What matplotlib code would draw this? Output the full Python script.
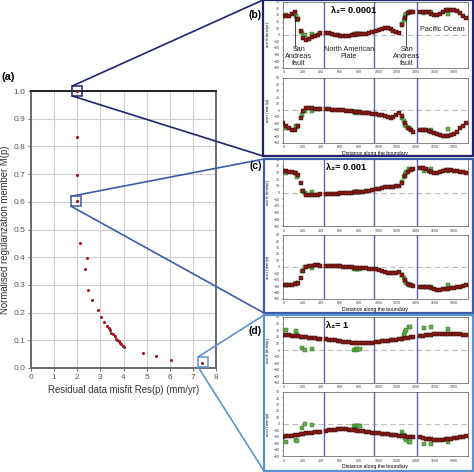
#! /usr/bin/env python3
"""L-curve of the regularisation and the velocity profiles for three lambda values."""

import matplotlib.pyplot as plt
from matplotlib.patches import ConnectionPatch, Rectangle

plt.rcParams.update({"font.family": ["Liberation Sans", "DejaVu Sans"]})

W, H = 474, 472

# (a) L-curve
misfit = [2.00, 2.00, 2.00, 2.00, 2.13, 2.41, 2.33, 2.48, 2.64, 2.88, 3.01, 3.14, 3.27,
          3.36, 3.42, 3.47, 3.56, 3.62, 3.66, 3.70, 3.79, 3.85, 3.90, 3.96, 4.03, 4.84,
          5.42, 6.05, 7.41]
norm_reg = [1.000, 0.833, 0.697, 0.603, 0.451, 0.398, 0.359, 0.282, 0.247, 0.208, 0.185,
            0.166, 0.152, 0.144, 0.136, 0.126, 0.121, 0.114, 0.106, 0.100, 0.097, 0.091,
            0.085, 0.080, 0.077, 0.053, 0.043, 0.030, 0.018]
# centres of the zoom boxes, one per lambda
zoom_centres = [(2.0, 1.0), (1.95, 0.602), (7.44, 0.022)]

# (b)-(d) profiles along the boundary
dist_km = [0, 30, 60, 90, 120, 150, 180, 210, 240, 270, 300, 330, 360, 390,
           450, 480, 510, 540, 570, 600, 630, 660, 690, 720, 750, 780, 810, 840, 870, 900, 930,
           980, 1010, 1040, 1070, 1100, 1130, 1160, 1190, 1220, 1250, 1280, 1310, 1340, 1370,
           1440, 1470, 1500, 1530, 1560, 1590, 1620, 1650, 1680, 1710, 1740, 1770, 1800, 1830,
           1860, 1890, 1920]

north_b = [28, 28, 29, 31, 34, 24, 5, -5, -8, -7, -4, -2, 0, 2,
           3, 2, 1, 0, -1, -2, -2, -2, -1.5, -1, 0, 0.5, 1, 1, 1.5, 2.5, 3.5,
           5, 6.5, 8, 9.5, 10, 8.5, 6, 4, 3, 14, 26, 33, 35, 35,
           34, 35, 35, 34, 32, 30, 30, 32, 35, 37, 38, 38, 38, 36, 33, 29, 26]
east_b = [-20, -24, -27, -30, -30, -24, -12, -2, 3, 3.5, 3, 2.5, 2.5, 2.5,
          2.5, 2, 1, 0.5, 0.5, 1, 0.5, -0.5, -1.5, -2, -2.5, -3, -3.5, -4, -4.5, -5, -5.5,
          -6, -7, -8, -9.5, -11, -12, -11, -7, -5, -9, -20, -27, -31, -34,
          -31, -30, -31, -32, -34, -35.5, -37, -38, -39, -40, -40, -38, -36, -33, -28, -24, -20]

north_c = [33, 32, 31, 31, 30, 27, 15, 2, -3, -4, -4, -3.5, -3, -2.5,
           -2, -2, -2, -1.5, -1.5, -1, -1, -0.5, 0, 0, 0.5, 1, 1, 1.5, 2, 3, 4,
           5, 6, 7.5, 8.5, 8.5, 9, 9, 9.5, 10, 14, 25, 31, 34, 35,
           37, 37, 35, 33, 31, 29.5, 29.5, 31, 32.5, 33.5, 34, 34, 33, 32, 31.5, 31, 30]
east_c = [-29, -28, -27.5, -27.5, -27, -25, -17, -6, -1, 1, 2, 3, 3, 2,
          1.5, 1.5, 1.5, 1, 1, 1, 0.5, 0, -0.5, -1, -1.5, -2, -2, -2.5, -2.5, -3, -3.5,
          -4, -5.5, -7, -8.5, -9.5, -10, -10, -9, -8, -13, -21, -26, -29, -30,
          -32, -32, -31.5, -32, -33, -34.5, -35.5, -35.5, -35, -34.5, -34, -33, -32.5, -32,
          -31, -30, -29]

north_d = [23, 22.5, 22, 21.5, 21, 20.5, 20, 19.5, 19, 18.5, 18, 17.5, 17, 16.5,
           16, 15.5, 15, 14.5, 14, 13, 12.5, 12, 11.5, 11, 10.5, 10.5, 10, 10, 10, 10.5, 11,
           12, 12.5, 13, 13.5, 14, 14.5, 15, 15.5, 16.5, 17, 18, 18.5, 19.5, 20,
           21, 21.5, 22, 22.5, 23, 23.5, 24, 24.5, 25, 25, 25, 25, 24.5, 24, 23.5, 23, 22.5]
east_d = [-20, -19.5, -19, -18.5, -18, -17, -16.5, -16, -15, -14.5, -14, -13, -12.5, -12,
          -11, -10, -9.5, -9, -8.5, -8.5, -8.5, -8.5, -9, -9.5, -10, -10.5, -11, -11.5, -12,
          -13, -13.5,
          -14.5, -15, -15.5, -16, -16.5, -17, -17.5, -18, -18.5, -19, -19.5, -20, -20, -20.5,
          -21, -22, -23, -23.5, -24, -24.5, -25, -25, -24.5, -24, -23.5, -23, -22, -21.5,
          -21, -20, -19]

# GPS observations (same in every panel)
obs_km = [30, 135, 146, 199, 230, 300, 745, 760, 775, 790, 805,
          1255, 1270, 1280, 1296, 1320, 1335, 1478, 1552, 1735]
obs_north = [29.8, 28.8, 23, 2.5, 0, 1, 0.5, 1, 0.5, 1, 1.5,
             16, 23, 28, 31, 35, 35, 33, 35, 32]
obs_east = [-27.7, -25, -26, -7, -1, -1.5, -3, -4, -3.5, -3, -4,
            -12, -17, -22.5, -25, -27.7, -29, -31, -31, -28.7]

fault_km = [432, 960, 1411]
lambdas = ["0.0001", "0.001", "1"]
panel_names = ["(b)", "(c)", "(d)"]
models = [(north_b, east_b), (north_c, east_c), (north_d, east_d)]

colours = ["#1f2370", "#3b5ca9", "#5b93d2"]
# frames of (b)-(d) and their axes, in pixels: left, top, right, bottom
frames = [(263, 0, 473, 156), (264, 159, 473, 313), (264, 315, 473, 471)]
axes_rows = [((1.7, 67.7), (77.7, 142.7)), ((159.3, 226), (234.7, 299)),
             ((317, 383), (391.7, 456))]
label_y = [15, 166, 331]

fig = plt.figure(figsize=(W / 100, H / 100), dpi=100)


def px_axes(left, top, right, bottom):
    return fig.add_axes([left / W, 1 - bottom / H, (right - left) / W, (bottom - top) / H])


# ---- (a)
ax = px_axes(31, 91, 216, 368)
ax.scatter(misfit, norm_reg, s=5, color="#a8141b", linewidths=0, zorder=3)
ax.set_xlim(0, 8)
ax.set_ylim(0, 1)
ax.set_xticks(range(9))
ax.set_yticks([i / 10 for i in range(11)])
ax.set_yticklabels([f"{i / 10:.1f}" for i in range(11)])
ax.grid(color="#cfcfcf", lw=0.8)
ax.set_axisbelow(True)
for spine in ax.spines.values():
    spine.set_color("#6a6a6a")
    spine.set_linewidth(1.4)
ax.spines["top"].set_color("#222222")
ax.tick_params(labelsize=6, colors="#555555", length=2, width=0.6, pad=2)
ax.set_xlabel("Residual data misfit Res(p) (mm/yr)", fontsize=6.9, color="#333333")
ax.xaxis.set_label_coords(0.5, -0.06)
ax.set_ylabel("Normalised regularization member M(p)", fontsize=6.9, color="#333333")
ax.yaxis.set_label_coords(-0.113, 0.5)
fig.text(2 / W, 1 - 77 / H, "(a)", fontsize=7.8, fontweight="bold", va="center")

dx, dy = 0.216, 0.018
for (cx, cy), col, (fl, ft, fr, fb) in zip(zoom_centres, colours, frames):
    ax.add_patch(Rectangle((cx - dx, cy - dy), 2 * dx, 2 * dy, fill=False, ec=col,
                           lw=1.1, clip_on=False, zorder=5))
    for corner_y, frame_y in ((cy + dy, ft), (cy - dy, fb)):
        con = ConnectionPatch(xyA=(cx - dx, corner_y), coordsA=ax.transData,
                              xyB=(fl / W, 1 - frame_y / H), coordsB=fig.transFigure,
                              color=col, lw=1.2)
        fig.add_artist(con)


# ---- (b)-(d)
def draw_profile(axp, model, obs, ylabel):
    axp.axhline(0, color="#bdbdbd", ls=(0, (5, 3)), lw=0.8, zorder=1)
    for f in fault_km:
        axp.axvline(f, color="#6064a8", lw=1.0, zorder=2)
    axp.plot(obs_km, obs, ls="none", marker="s", ms=2.3, mfc="#5fae45", mec="#2f6b22",
             mew=0.3, zorder=3)
    axp.plot(dist_km, model, ls="none", marker="s", ms=2.3, mfc="#8a1a14", mec="#1e0806",
             mew=0.3, zorder=4)
    axp.set_xlim(-10, 1946)
    axp.set_ylim(-50, 50)
    axp.set_xticks(range(0, 1801, 200))
    axp.set_yticks(range(-50, 51, 10))
    axp.tick_params(labelsize=2.6, length=1, width=0.3, pad=0.8, colors="#444444")
    axp.set_ylabel(ylabel, fontsize=3, labelpad=1.5)
    for spine in axp.spines.values():
        spine.set_color("#555555")
        spine.set_linewidth(0.5)


for k, ((north, east), (row_n, row_e), col, frame) in enumerate(
        zip(models, axes_rows, colours, frames)):
    fl, ft, fr, fb = frame
    fig.add_artist(Rectangle((fl / W, 1 - fb / H), (fr - fl) / W, (fb - ft) / H,
                             transform=fig.transFigure, fill=False, ec=col, lw=1.6))
    fig.text(262 / W, 1 - label_y[k] / H, panel_names[k], fontsize=7.5,
             fontweight="bold", ha="right", va="center")

    ax_n = px_axes(282.5, row_n[0], 468, row_n[1])
    draw_profile(ax_n, north, obs_north, "u$_{north}$ (mm/yr)")
    ax_e = px_axes(282.5, row_e[0], 468, row_e[1])
    draw_profile(ax_e, east, obs_east, "u$_{east}$ (mm/yr)")
    ax_e.set_xlabel("Distance along the boundary", fontsize=3.7, labelpad=1)

    lam_x = 505 if k == 0 else 452
    ax_n.text(lam_x, 37, f"λ₂= {lambdas[k]}", fontsize=6.6, fontweight="bold",
              va="center")

    if k == 0:
        for fx in (118, 1296):
            ax_n.plot([fx, fx], [30, -18], color="black", lw=0.5, zorder=5)
        for tx, label in ((160, "San\nAndreas\nfault"), (690, "North American\nPlate"),
                          (1300, "San\nAndreas\nfault")):
            ax_n.text(tx, -17, label, fontsize=5.2, ha="center", va="top",
                      linespacing=1.0, color="#222222", zorder=6)
        ax_n.text(1675, 8, "Pacific Ocean", fontsize=5.2, ha="center", va="center",
                  color="#222222", zorder=6)

fig.savefig("out.png", dpi=100)
